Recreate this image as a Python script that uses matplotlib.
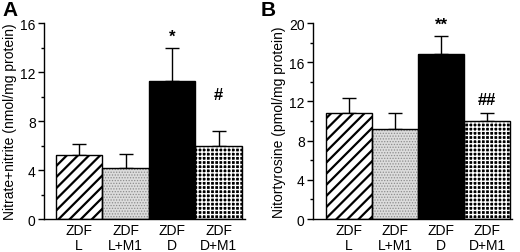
import matplotlib
matplotlib.use("Agg")
import matplotlib as mpl
import matplotlib.pyplot as plt
import numpy as np

plt.rcParams['font.family'] = ['Liberation Sans', 'DejaVu Sans']

groups = ['ZDF\nL', 'ZDF\nL+M1', 'ZDF\nD', 'ZDF\nD+M1']

no_mean = [5.2, 4.2, 11.3, 6.0]
no_err = [0.9, 1.1, 2.7, 1.2]
no_marks = ['', '', '*', '#']
no_mark_y = [0, 0, 14.9, 10.2]

nt_mean = [10.8, 9.2, 16.8, 10.0]
nt_err = [1.5, 1.6, 1.9, 0.8]
nt_marks = ['', '', '**', '##']
nt_mark_y = [0, 0, 19.9, 12.2]

# fill styles for the four groups: (facecolor, hatch colour, hatch, hatch lw)
styles = [('white', 'black', '///', 1.6),
          ('#dcdcdc', '#8c8c8c', '......', 0.6),
          ('black', 'black', '', 1.0),
          ('black', 'white', '++++', 1.0)]


def draw_panel(ax, means, errs, marks, mark_y, ymax, ylabel, xlim):
	x = np.arange(len(means))
	for i in range(len(means)):
		fc, hc, hatch, hlw = styles[i]
		with mpl.rc_context({'hatch.linewidth': hlw}):
			ax.bar(x[i], means[i], width=1.0, color=fc, edgecolor=hc,
				hatch=hatch, linewidth=0, zorder=2)
		ax.bar(x[i], means[i], width=1.0, fill=False, edgecolor='black',
			linewidth=1.0, zorder=3)
	ax.errorbar(x, means, yerr=[np.zeros(len(errs)), errs], fmt='none',
		ecolor='black', elinewidth=1.0, capsize=5, capthick=1.0, zorder=1)
	for i, m in enumerate(marks):
		if m:
			ax.text(x[i], mark_y[i], m, ha='center', va='center',
				fontsize=12, fontweight='bold')
	ax.set_xlim(*xlim)
	ax.set_ylim(0, ymax)
	ax.set_yticks(np.arange(0, ymax + 1, 4))
	ax.set_yticks(np.arange(2, ymax, 4), minor=True)
	ax.set_xticks(x)
	ax.set_xticklabels(groups, fontsize=10, linespacing=1.05)
	ax.tick_params(axis='x', length=0, pad=3)
	ax.tick_params(axis='y', which='major', length=4, width=1, labelsize=10, pad=2)
	ax.tick_params(axis='y', which='minor', length=2.5, width=1)
	for s in ['top', 'right']:
		ax.spines[s].set_visible(False)
	ax.spines['left'].set_linewidth(1)
	ax.spines['bottom'].set_linewidth(1)
	ax.set_ylabel(ylabel, fontsize=10, labelpad=2)


fig = plt.figure(figsize=(5.2, 2.53), dpi=100)
ax1 = fig.add_axes([0.0846, 0.1304, 0.3866, 0.7747])
ax2 = fig.add_axes([0.602, 0.1304, 0.3826, 0.7747])

draw_panel(ax1, no_mean, no_err, no_marks, no_mark_y, 16,
	'Nitrate+nitrite (nmol/mg protein)', (-0.758, 3.565))
draw_panel(ax2, nt_mean, nt_err, nt_marks, nt_mark_y, 20,
	'Nitortyrosine (pmol/mg protein)', (-0.78, 3.54))

fig.text(0.004, 0.995, 'A', fontsize=15, fontweight='bold', va='top', ha='left')
fig.text(0.502, 0.995, 'B', fontsize=15, fontweight='bold', va='top', ha='left')

fig.savefig('out.png', dpi=100)
